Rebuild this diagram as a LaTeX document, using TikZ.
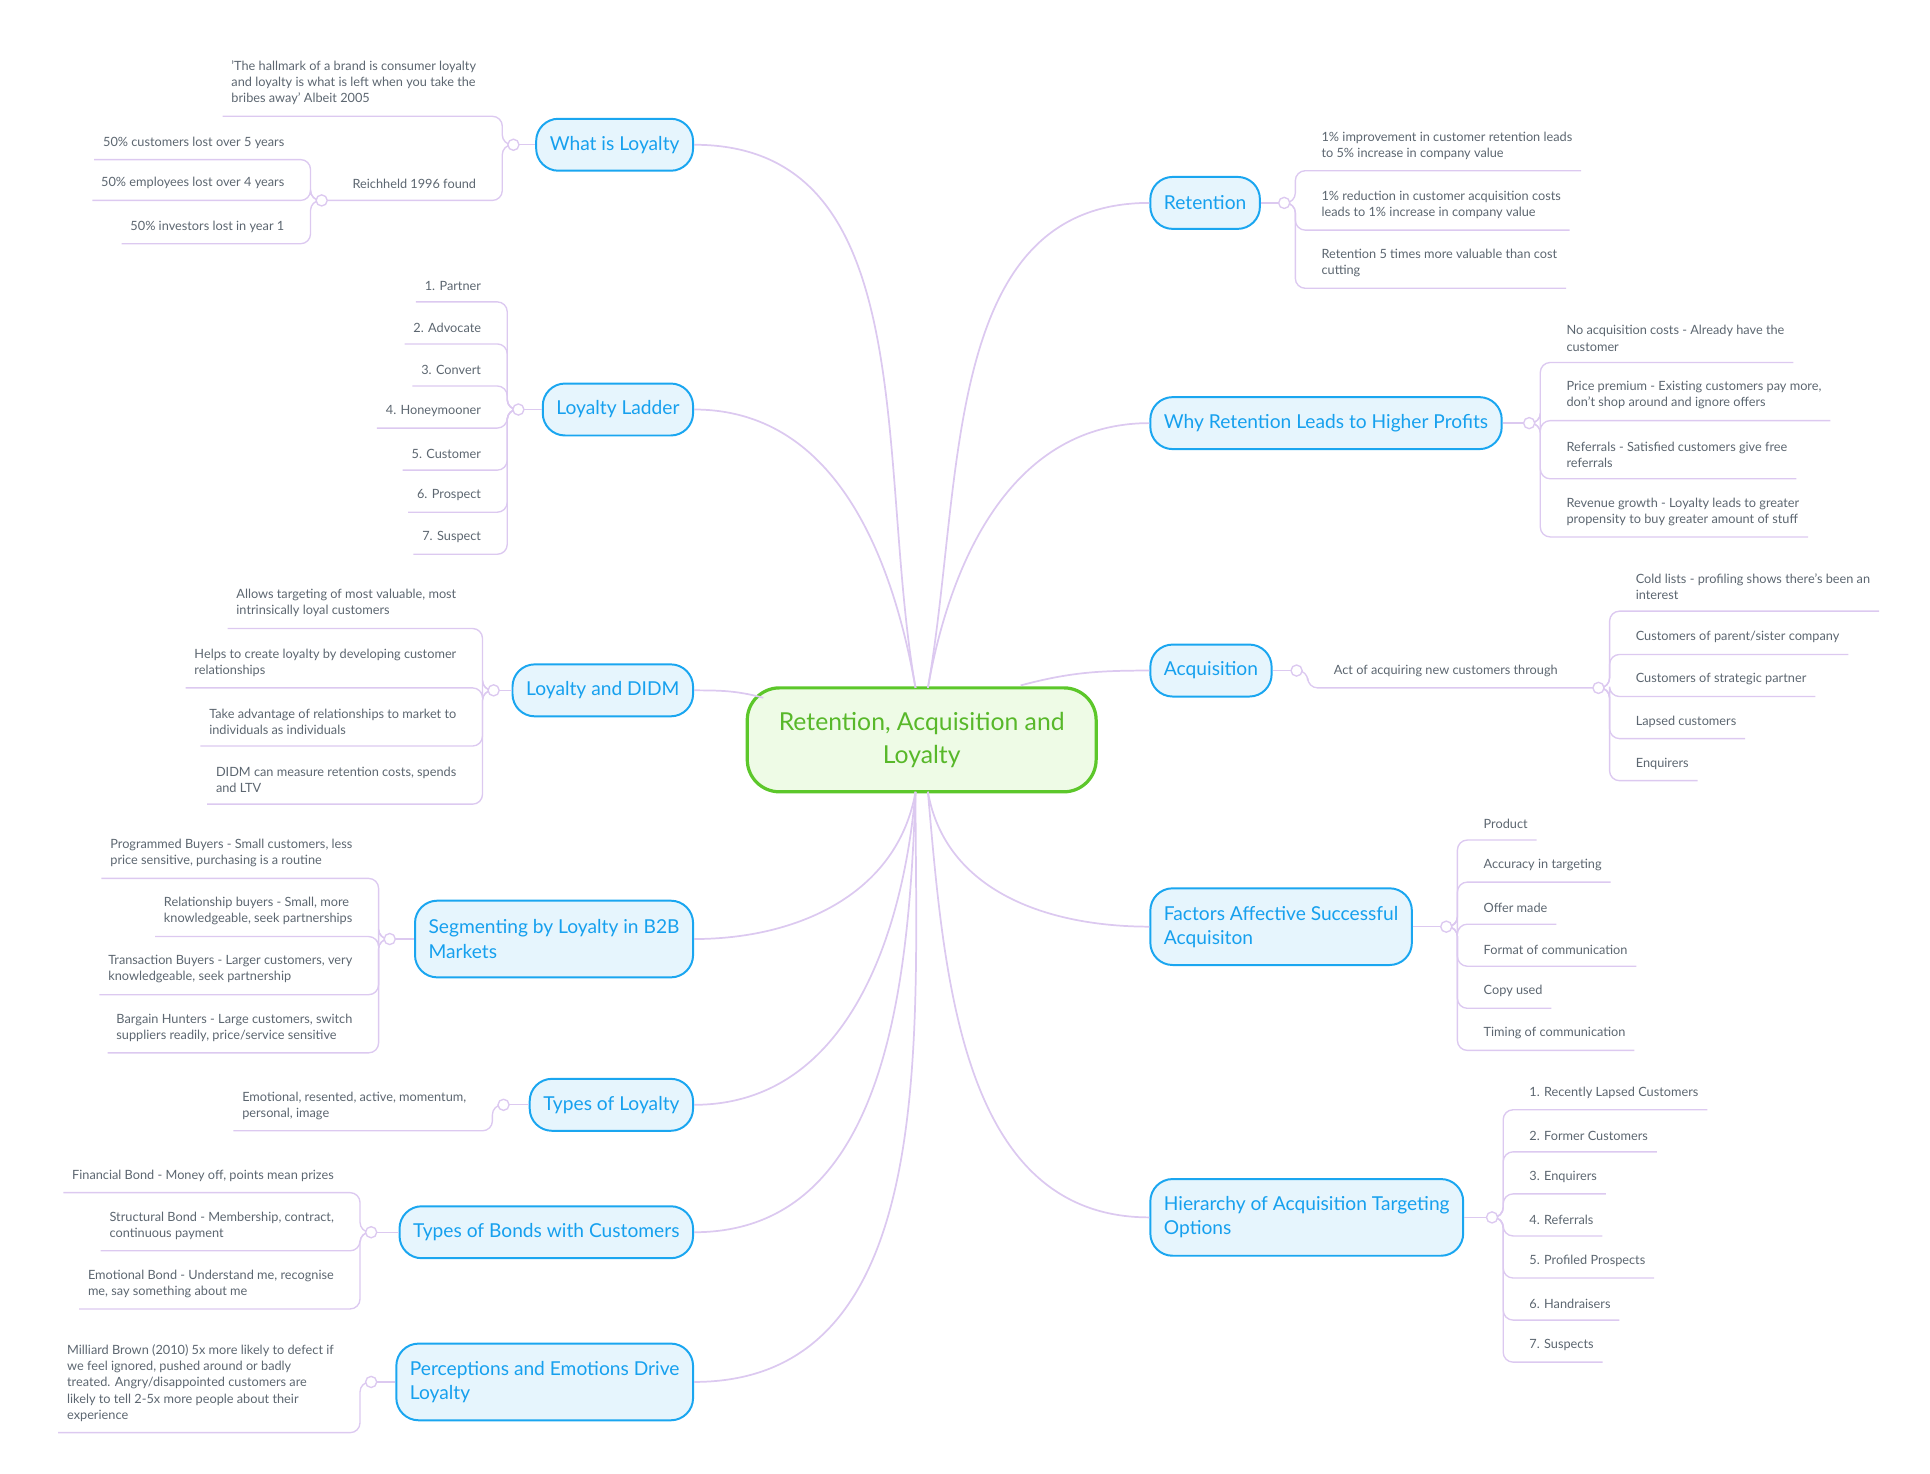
\documentclass[tikz,border=0pt]{standalone}
\usepackage{fontspec}
\setmainfont{Lato}
\definecolor{lav}{HTML}{DCC9F0}
\definecolor{bluB}{HTML}{1AA6F0}
\definecolor{bluF}{HTML}{E6F5FD}
\definecolor{bluT}{HTML}{16A0EE}
\definecolor{grnB}{HTML}{5CC72A}
\definecolor{grnF}{HTML}{EEFBE6}
\definecolor{grnT}{HTML}{58B82A}
\definecolor{txt}{HTML}{5C6670}
\newcommand{\lfL}[4]{%
 \node[leaf, anchor=south east] (t) at (#1-30,#3-9) {#4};
 \draw[conn, rounded corners=8pt] (#1,#2) -- (#1-9,#2) -- (#1-9,#3) -- ([shift={(-7pt,-9pt)}]t.south west);}
\newcommand{\lfR}[4]{%
 \node[leaf, anchor=south west] (t) at (#1+30,#3-9) {#4};
 \draw[conn, rounded corners=8pt] (#1,#2) -- (#1+9,#2) -- (#1+9,#3) -- ([shift={(7pt,-9pt)}]t.south east);}
\newcommand{\bc}[3]{\node[bcirc] (#1) at (#2,#3) {};}
\begin{document}
\begin{tikzpicture}[x=1pt,y=-1pt,
 leaf/.style={inner sep=0pt, align=left, text=txt, font=\fontsize{10.3}{13}\selectfont},
 conn/.style={draw=lav, line width=1.1pt},
 mconn/.style={draw=lav, line width=1.4pt},
 bcirc/.style={circle, draw=lav, fill=white, line width=1.1pt, minimum size=9pt, inner sep=0pt},
 mn/.style={draw=bluB, fill=bluF, line width=1.6pt, rounded corners=18pt, text=bluT, font=\fontsize{15.5}{19.5}\selectfont, minimum height=42pt, inner xsep=11pt, inner ysep=0pt, align=left},
 ]
\useasboundingbox (0,0) rectangle (1560,1191);
\node[draw=grnB, fill=grnF, line width=2.6pt, rounded corners=26pt, minimum width=282pt, minimum height=84pt, align=center, text=grnT, font=\fontsize{20}{27}\selectfont] (c) at (745,598) {Retention, Acquisition and\\Loyalty};
\coordinate (ctl) at (740,556); \coordinate (ctr) at (750,556);
\coordinate (cbl) at (740,640); \coordinate (cbr) at (750,640);
% main nodes left
\node[mn, anchor=east] (n1) at (561,117) {What is Loyalty};
\node[mn, anchor=east] (n2) at (561,331) {Loyalty Ladder};
\node[mn, anchor=east] (n3) at (561,558) {Loyalty and DIDM};
\node[mn, anchor=east, minimum height=62pt] (n4) at (561,759) {Segmenting by Loyalty in B2B\\Markets};
\node[mn, anchor=east] (n5) at (561,893) {Types of Loyalty};
\node[mn, anchor=east] (n6) at (561,996) {Types of Bonds with Customers};
\node[mn, anchor=east, minimum height=62pt] (n7) at (561,1117) {Perceptions and Emotions Drive\\Loyalty};
% right
\node[mn, anchor=west] (m1) at (929,164) {Retention};
\node[mn, anchor=west] (m2) at (929,342) {Why Retention Leads to Higher Profits};
\node[mn, anchor=west] (m3) at (929,542) {Acquisition};
\node[mn, anchor=west, minimum height=62pt] (m4) at (929,749) {Factors Affective Successful\\Acquisiton};
\node[mn, anchor=west, minimum height=62pt] (m5) at (929,984) {Hierarchy of Acquisition Targeting\\Options};
% main connectors
\draw[mconn] (n1.east) to[out=0,in=100] (ctl);
\draw[mconn] (n2.east) to[out=0,in=100] (ctl);
\draw[mconn] (n3.east) to[out=0,in=165] (617,564);
\draw[mconn] (n4.east) to[out=0,in=-100] (cbl);
\draw[mconn] (n5.east) to[out=0,in=-95] (cbl);
\draw[mconn] (n6.east) to[out=0,in=-92] (cbl);
\draw[mconn] (n7.east) to[out=0,in=-90] (cbl);
\draw[mconn] (m1.west) to[out=180,in=80] (ctr);
\draw[mconn] (m2.west) to[out=180,in=80] (ctr);
\draw[mconn] (m3.west) to[out=180,in=15] (825,554);
\draw[mconn] (m4.west) to[out=180,in=-80] (cbr);
\draw[mconn] (m5.west) to[out=180,in=-85] (cbr);
% ---- What is Loyalty
\draw[conn] (n1.west) -- (415,117);
\lfL{415}{117}{94}{'The hallmark of a brand is consumer loyalty\\and loyalty is what is left when you take the\\bribes away' Albeit 2005}
\node[leaf, anchor=south east] (rh) at (385,153) {Reichheld 1996 found};
\draw[conn, rounded corners=8pt] (415,117) -- (406,117) -- (406,162) -- (260,162);
\lfL{260}{162}{129}{50\% customers lost over 5 years}
\lfL{260}{162}{162}{50\% employees lost over 4 years}
\lfL{260}{162}{197}{50\% investors lost in year 1}
\bc{b1}{415}{117} \bc{b1a}{260}{162}
% ---- Loyalty Ladder
\draw[conn] (n2.west) -- (419,331);
\lfL{419}{331}{244}{1. Partner}
\lfL{419}{331}{278}{2. Advocate}
\lfL{419}{331}{312}{3. Convert}
\lfL{419}{331}{346}{4. Honeymooner}
\lfL{419}{331}{380}{5. Customer}
\lfL{419}{331}{414}{6. Prospect}
\lfL{419}{331}{448}{7. Suspect}
\bc{b2}{419}{331}
% ---- DIDM
\draw[conn] (n3.west) -- (399,558);
\lfL{399}{558}{508}{Allows targeting of most valuable, most\\intrinsically loyal customers}
\lfL{399}{558}{556}{Helps to create loyalty by developing customer\\relationships}
\lfL{399}{558}{603}{Take advantage of relationships to market to\\individuals as individuals}
\lfL{399}{558}{650}{DIDM can measure retention costs, spends\\and LTV}
\bc{b3}{399}{558}
% ---- Segmenting
\draw[conn] (n4.west) -- (315,759);
\lfL{315}{759}{710}{Programmed Buyers - Small customers, less\\price sensitive, purchasing is a routine}
\lfL{315}{759}{757}{Relationship buyers - Small, more\\knowledgeable, seek partnerships}
\lfL{315}{759}{804}{Transaction Buyers - Larger customers, very\\knowledgeable, seek partnership}
\lfL{315}{759}{851}{Bargain Hunters - Large customers, switch\\suppliers readily, price/service sensitive}
\bc{b4}{315}{759}
% ---- Types of Loyalty
\draw[conn] (n5.west) -- (407,893);
\lfL{407}{893}{914}{Emotional, resented, active, momentum,\\personal, image}
\bc{b5}{407}{893}
% ---- Bonds
\draw[conn] (n6.west) -- (300,996);
\lfL{300}{996}{964}{Financial Bond - Money off, points mean prizes}
\lfL{300}{996}{1011}{Structural Bond - Membership, contract,\\continuous payment}
\lfL{300}{996}{1058}{Emotional Bond - Understand me, recognise\\me, say something about me}
\bc{b6}{300}{996}
% ---- Perceptions
\draw[conn] (n7.west) -- (300,1117);
\lfL{300}{1117}{1158}{Milliard Brown (2010) 5x more likely to defect if\\we feel ignored, pushed around or badly\\treated. Angry/disappointed customers are\\likely to tell 2-5x more people about their\\experience}
\bc{b7}{300}{1117}
% ---- Retention
\draw[conn] (m1.east) -- (1038,164);
\lfR{1038}{164}{138}{1\% improvement in customer retention leads\\to 5\% increase in company value}
\lfR{1038}{164}{186}{1\% reduction in customer acquisition costs\\leads to 1\% increase in company value}
\lfR{1038}{164}{233}{Retention 5 times more valuable than cost\\cutting}
\bc{r1}{1038}{164}
% ---- Why Retention
\draw[conn] (m2.east) -- (1236,342);
\lfR{1236}{342}{293}{No acquisition costs - Already have the\\customer}
\lfR{1236}{342}{340}{Price premium - Existing customers pay more,\\don't shop around and ignore offers}
\lfR{1236}{342}{387}{Referrals - Satisfied customers give free\\referrals}
\lfR{1236}{342}{434}{Revenue growth - Loyalty leads to greater\\propensity to buy greater amount of stuff}
\bc{r2}{1236}{342}
% ---- Acquisition
\draw[conn] (m3.east) -- (1048,542);
\node[leaf, anchor=south west] (ac) at (1078,547) {Act of acquiring new customers through};
\draw[conn, rounded corners=8pt] (1048,542) -- (1057,542) -- (1057,556) -- (1292,556);
\lfR{1292}{556}{494}{Cold lists - profiling shows there's been an\\interest}
\lfR{1292}{556}{529}{Customers of parent/sister company}
\lfR{1292}{556}{563}{Customers of strategic partner}
\lfR{1292}{556}{597}{Lapsed customers}
\lfR{1292}{556}{631}{Enquirers}
\bc{r3}{1048}{542} \bc{r3a}{1292}{556}
% ---- Factors
\draw[conn] (m4.east) -- (1169,749);
\lfR{1169}{749}{679}{Product}
\lfR{1169}{749}{713}{Accuracy in targeting}
\lfR{1169}{749}{747}{Offer made}
\lfR{1169}{749}{781}{Format of communication}
\lfR{1169}{749}{815}{Copy used}
\lfR{1169}{749}{849}{Timing of communication}
\bc{r4}{1169}{749}
% ---- Hierarchy
\draw[conn] (m5.east) -- (1206,984);
\lfR{1206}{984}{897}{1. Recently Lapsed Customers}
\lfR{1206}{984}{931}{2. Former Customers}
\lfR{1206}{984}{965}{3. Enquirers}
\lfR{1206}{984}{999}{4. Referrals}
\lfR{1206}{984}{1033}{5. Profiled Prospects}
\lfR{1206}{984}{1067}{6. Handraisers}
\lfR{1206}{984}{1101}{7. Suspects}
\bc{r5}{1206}{984}
\end{tikzpicture}
\end{document}
